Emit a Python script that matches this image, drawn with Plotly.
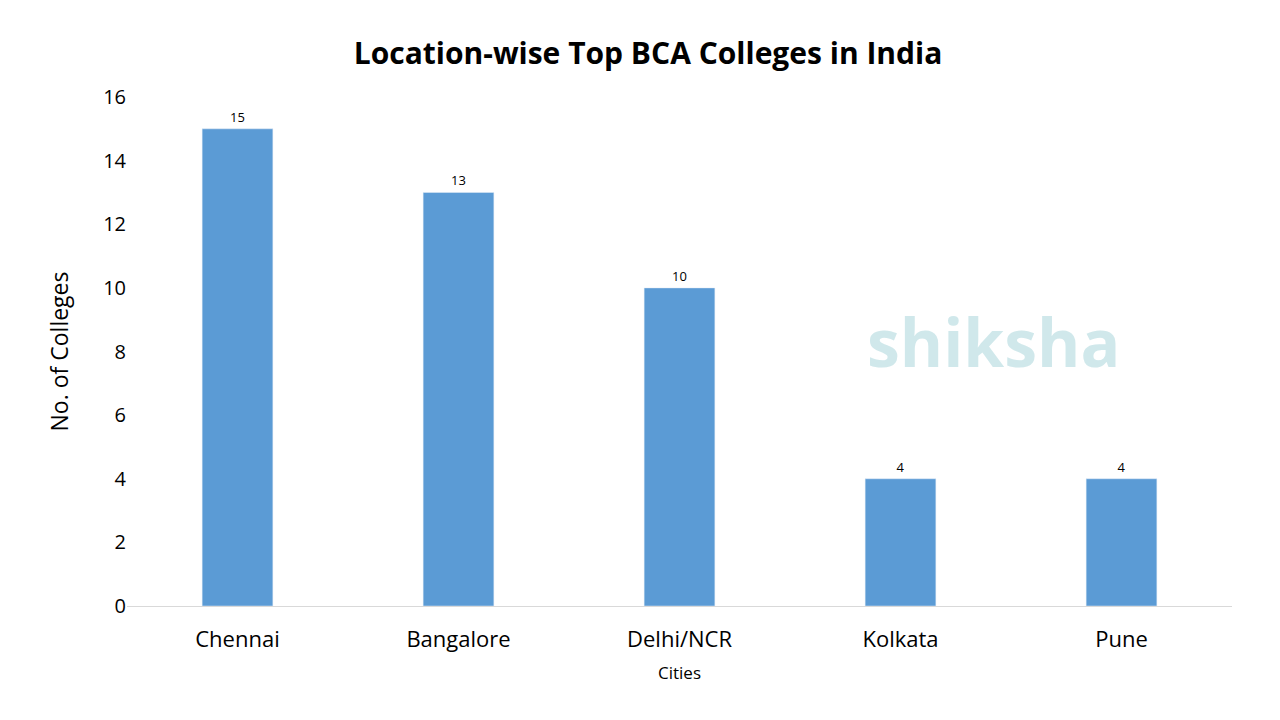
import plotly.graph_objects as go

cities = ["Chennai", "Bangalore", "Delhi/NCR", "Kolkata", "Pune"]
colleges = [15, 13, 10, 4, 4]
yticks = [0, 2, 4, 6, 8, 10, 12, 14, 16]

fig = go.Figure(go.Bar(
    x=cities, y=colleges, marker_color="#5B9BD5",
    text=colleges, textposition="outside", textfont=dict(size=13, color="#000"),
    cliponaxis=False,
))
fig.update_layout(
    width=1280, height=720, paper_bgcolor="white", plot_bgcolor="white",
    font=dict(family="Open Sans, sans-serif", color="#000"),
    margin=dict(l=119, r=56, t=89, b=122),
    bargap=0.68, showlegend=False,
    title=dict(text="<b>Location-wise Top BCA Colleges in India</b>", x=0.5, xanchor="center",
               y=0.937, yanchor="middle", font=dict(size=30)),
    xaxis=dict(showline=True, linecolor="#D9D9D9", tickfont=dict(size=22), ticklabelstandoff=14,
               title=dict(text="Cities", font=dict(size=17), standoff=14), ticks=""),
    yaxis=dict(range=[0, 16], tickvals=yticks, showgrid=False, tickfont=dict(size=20),
               title=dict(text="No. of Colleges", font=dict(size=23), standoff=28), zeroline=False),
    annotations=[dict(text="<b>shiksha</b>", x=0.90, y=0.52, xref="paper", yref="paper", showarrow=False,
                      font=dict(size=66, color="rgba(150,205,210,0.45)"))],
)
fig.write_html("out.html")
